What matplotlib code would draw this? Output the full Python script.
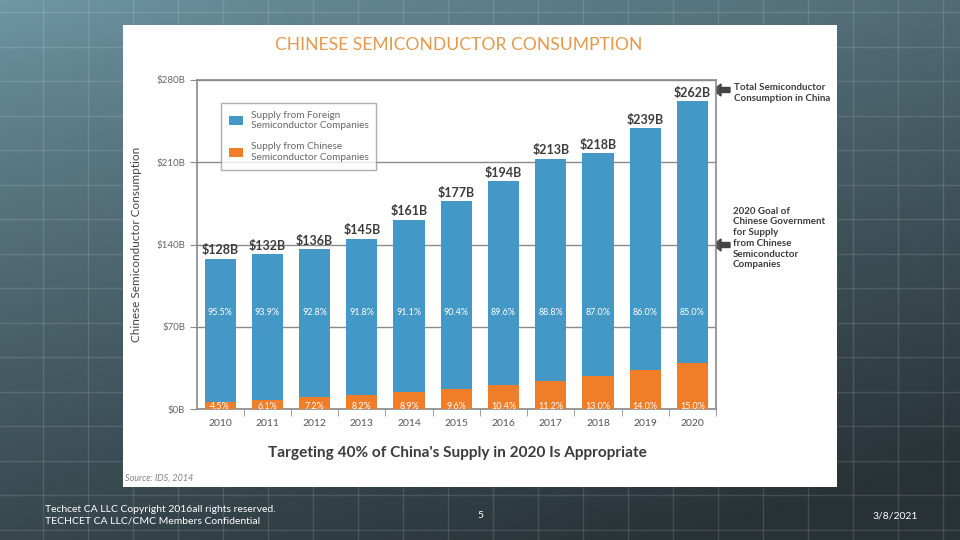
import numpy as np
import matplotlib
matplotlib.use('Agg')
import matplotlib.pyplot as plt
from matplotlib.patches import Rectangle, FancyArrow

plt.rcParams['font.family'] = ['Lato', 'DejaVu Sans']

years = ['2010', '2011', '2012', '2013', '2014', '2015', '2016', '2017', '2018', '2019', '2020']
totals = [128, 132, 136, 145, 161, 177, 194, 213, 218, 239, 262]
foreign_pct = [95.5, 93.9, 92.8, 91.8, 91.1, 90.4, 89.6, 88.8, 87.0, 86.0, 85.0]
chinese_pct = [4.5, 6.1, 7.2, 8.2, 8.9, 9.6, 10.4, 11.2, 13.0, 14.0, 15.0]
yticks = [0, 70, 140, 210, 280]

blue = '#4398c6'
orange = '#f07d28'
dark = '#3c3c3c'
grey = '#8a8a8a'

fig = plt.figure(figsize=(9.6, 5.4), dpi=100)

# slide background: diagonal gradient with faint grid
bg = fig.add_axes([0, 0, 1, 1])
bg.set_axis_off()
yy, xx = np.mgrid[0:1:270j, 0:1:480j]
t = np.clip(0.75 * yy + 0.35 * xx, 0, 1) ** 0.8
top = np.array([112, 152, 166]) / 255
bot = np.array([40, 50, 54]) / 255
img = top[None, None, :] * (1 - t[..., None]) + bot[None, None, :] * t[..., None]
bg.imshow(img, extent=[0, 960, 540, 0], aspect='auto')
for gx in np.arange(43, 960, 45):
    bg.axvline(gx, color='white', alpha=0.12, lw=1)
for gy in np.arange(12, 540, 34.5):
    bg.axhline(gy, color='white', alpha=0.12, lw=1)
bg.set_xlim(0, 960)
bg.set_ylim(540, 0)
bg.add_patch(Rectangle((123, 25), 714, 462, facecolor='white', edgecolor='none'))

# panel texts
bg.text(459, 45, 'CHINESE SEMICONDUCTOR CONSUMPTION', color='#e39a4e', fontsize=12.6,
        ha='center', va='center')
bg.text(457, 453, "Targeting 40% of China's Supply in 2020 Is Appropriate", color=dark,
        fontsize=11.1, fontweight='bold', ha='center', va='center')
bg.text(125, 478, 'Source: IDS, 2014', color='#808080', fontsize=6.5, style='italic',
        ha='left', va='center')
bg.text(734, 93, 'Total Semiconductor\nConsumption in China', color=dark, fontsize=7,
        fontweight='bold', ha='left', va='center', linespacing=1.2)
bg.text(733, 238, '2020 Goal of\nChinese Government\nfor Supply\nfrom Chinese\nSemiconductor\nCompanies',
        color=dark, fontsize=7, fontweight='bold', ha='left', va='center', linespacing=1.25)
bg.add_patch(FancyArrow(730, 90, -17, 0, width=5, head_width=12, head_length=8,
                        color='#444444', length_includes_head=True))
bg.add_patch(FancyArrow(730, 245, -17, 0, width=5, head_width=12, head_length=8,
                        color='#444444', length_includes_head=True))

# footer
bg.text(45, 515, 'Techcet CA LLC Copyright 2016all rights reserved.\nTECHCET CA LLC/CMC Members Confidential',
        color='white', fontsize=7.5, ha='left', va='center', linespacing=1.35)
bg.text(480, 516, '5', color='white', fontsize=7.5, ha='center', va='center')
bg.text(918, 516, '3/8/2021', color='white', fontsize=7.5, ha='right', va='center')

# chart
ax = fig.add_axes([197 / 960, 1 - 409 / 540, 519 / 960, 329 / 540])
x = np.arange(len(years))
totals_a = np.array(totals, dtype=float)
chinese = totals_a * np.array(chinese_pct) / 100
foreign = totals_a - chinese
ax.bar(x, foreign, bottom=chinese, width=0.66, color=blue, zorder=3,
       label='Supply from Foreign\nSemiconductor Companies')
ax.bar(x, chinese, width=0.66, color=orange, zorder=3,
       label='Supply from Chinese\nSemiconductor Companies')

for i in range(len(years)):
    ax.text(x[i], totals[i] + 2, '$%dB' % totals[i], ha='center', va='bottom',
            color=dark, fontsize=9, fontweight='bold')
    ax.text(x[i], 82, '%.1f%%' % foreign_pct[i], ha='center', va='center',
            color='white', fontsize=6.5, zorder=4)
    ax.text(x[i], 2.5, '%.1f%%' % chinese_pct[i], ha='center', va='center',
            color='white', fontsize=6.5, zorder=4)

ax.set_xlim(-0.49, 10.49)
ax.set_ylim(0, 280)
ax.set_yticks(yticks)
ax.set_yticklabels(['$%dB' % v for v in yticks])
ax.set_xticks(x)
ax.set_xticklabels(years)
ax.set_xticks(np.arange(-0.5, 10.5, 1) + 1, minor=True)
ax.tick_params(axis='x', which='major', length=0, labelsize=7.5, labelcolor='#555555', pad=7)
ax.tick_params(axis='x', which='minor', length=5, color=grey, direction='out')
ax.tick_params(axis='y', length=5, color=grey, labelsize=7, labelcolor='#666666')
ax.yaxis.grid(True, color=grey, lw=1, zorder=0)
ax.set_axisbelow(True)
for s in ax.spines.values():
    s.set_color(grey)
    s.set_linewidth(1.2)
ax.set_ylabel('Chinese Semiconductor Consumption', color='#444444', fontsize=8.5, labelpad=10)

leg = ax.legend(loc='upper left', bbox_to_anchor=(0.036, 0.945), fontsize=7.2, frameon=True,
                fancybox=False, edgecolor='#999999', handlelength=1.4, handleheight=1.0,
                labelspacing=1.2, borderpad=0.8, labelcolor='#666666')
leg.get_frame().set_linewidth(1)
leg.set_zorder(5)

fig.savefig('out.png', dpi=100)
